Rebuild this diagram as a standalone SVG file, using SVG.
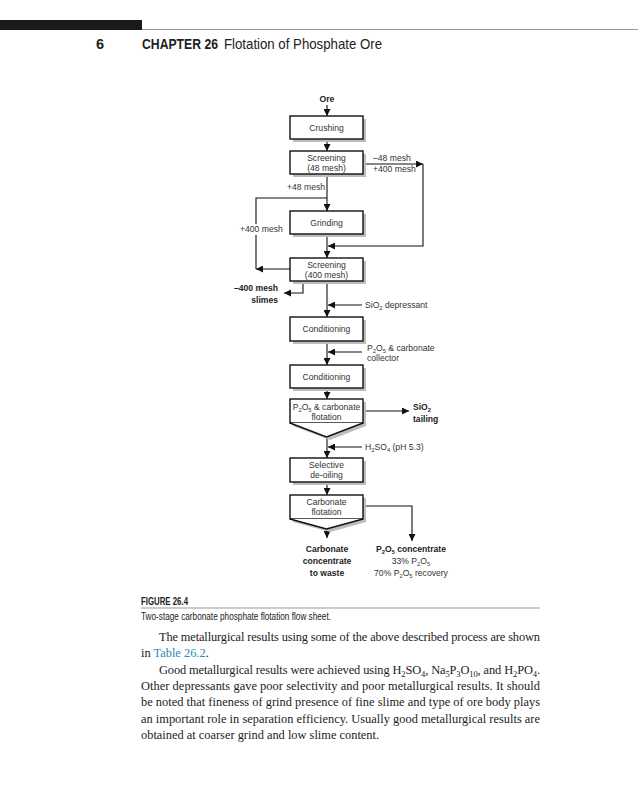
<svg xmlns="http://www.w3.org/2000/svg" width="638" height="787" viewBox="0 0 638 787">
<defs>
<marker id="ah" viewBox="0 0 10 10" refX="10" refY="5" markerWidth="7" markerHeight="7" markerUnits="userSpaceOnUse" orient="auto">
<path d="M0,0 L10,5 L0,10 z" fill="#111"/>
</marker>
</defs>
<style>
.bx{fill:#fff;stroke:#111;stroke-width:1.4}
.sh{fill:#bdbdbd;stroke:none}
.ln{fill:none;stroke:#111;stroke-width:1.1;marker-end:url(#ah)}
.pl{fill:none;stroke:#111;stroke-width:1.1}
.t{font-family:"Liberation Sans",Arial,sans-serif;font-size:8.6px;fill:#333}
.c{text-anchor:middle}
.e{text-anchor:end}
.b{font-weight:bold;fill:#222}
.s{font-size:5.8px}
.body{font-family:"Liberation Serif","Times New Roman",serif;font-size:12.4px;fill:#222}
.hd{font-family:"Liberation Sans",Arial,sans-serif;fill:#222}
</style>
<rect width="638" height="787" fill="#fff"/>

<!-- header -->
<rect x="0" y="20" width="142" height="10" fill="#1a1a1a"/>
<line x1="142" y1="29.5" x2="638" y2="29.5" stroke="#999" stroke-width="1"/>
<text class="hd" x="96" y="49" font-size="14.5" font-weight="bold">6</text>
<text class="hd" x="142" y="49" font-size="14.5" font-weight="bold" textLength="76" lengthAdjust="spacingAndGlyphs">CHAPTER 26</text>
<text class="hd" x="224" y="49" font-size="14.5" textLength="158" lengthAdjust="spacingAndGlyphs">Flotation of Phosphate Ore</text>

<!-- connectors -->
<g id="connectors">
<path class="ln" d="M327,105 V116"/>
<path class="ln" d="M327,139 V151"/>
<path class="ln" d="M327,174 V211"/>
<path class="ln" d="M363,164 H423"/>
<path class="ln" d="M423,164 V246 H328"/>
<path class="ln" d="M327,234 V258"/>
<path class="ln" d="M290,269 H256"/>
<path class="pl" d="M256,269 V198 H327"/>
<path class="ln" d="M303,281 V293 H284"/>
<path class="ln" d="M327,281 V317"/>
<path class="ln" d="M362,305 H328"/>
<path class="ln" d="M327,341 V365"/>
<path class="ln" d="M362,352 H328"/>
<path class="ln" d="M327,388 V399"/>
<path class="ln" d="M363,411 H409"/>
<path class="ln" d="M327,437 V458"/>
<path class="ln" d="M362,447 H328"/>
<path class="ln" d="M327,482 V495"/>
<path class="ln" d="M327,529 V538"/>
<path class="ln" d="M363,506 H412 V541"/>
</g>

<!-- nodes -->
<g id="ore"><text class="t c b" x="327" y="102">Ore</text></g>

<g id="crushing">
<rect class="sh" x="293" y="119" width="73" height="23"/>
<rect class="bx" x="290" y="116" width="73" height="23"/>
<text class="t c" x="326.5" y="131">Crushing</text>
</g>

<g id="screening48">
<rect class="sh" x="293" y="154" width="73" height="23"/>
<rect class="bx" x="290" y="151" width="73" height="23"/>
<text class="t c" x="326.5" y="161">Screening</text>
<text class="t c" x="326.5" y="171">(48 mesh)</text>
</g>

<g id="grinding">
<rect class="sh" x="293" y="214" width="73" height="23"/>
<rect class="bx" x="290" y="211" width="73" height="23"/>
<text class="t c" x="326.5" y="226">Grinding</text>
</g>

<g id="screening400">
<rect class="sh" x="293" y="261" width="73" height="23"/>
<rect class="bx" x="290" y="258" width="73" height="23"/>
<text class="t c" x="326.5" y="268">Screening</text>
<text class="t c" x="326.5" y="278">(400 mesh)</text>
</g>

<g id="conditioning1">
<rect class="sh" x="293" y="320" width="73" height="24"/>
<rect class="bx" x="290" y="317" width="73" height="24"/>
<text class="t c" x="326.5" y="332">Conditioning</text>
</g>

<g id="conditioning2">
<rect class="sh" x="293" y="368" width="73" height="23"/>
<rect class="bx" x="290" y="365" width="73" height="23"/>
<text class="t c" x="326.5" y="380">Conditioning</text>
</g>

<g id="flotation1">
<path class="sh" d="M293,402 H366 V426 L330,440 L293,426 Z"/>
<rect class="bx" x="290" y="399" width="73" height="24"/>
<path class="bx" d="M290,423 L326.5,437 L363,423"/>
<text class="t c" x="326.5" y="410">P<tspan class="s" dy="2">2</tspan><tspan dy="-2">O</tspan><tspan class="s" dy="2">5</tspan><tspan dy="-2"> &amp; carbonate</tspan></text>
<text class="t c" x="326.5" y="420">flotation</text>
</g>

<g id="deoiling">
<rect class="sh" x="293" y="461" width="73" height="24"/>
<rect class="bx" x="290" y="458" width="73" height="24"/>
<text class="t c" x="326.5" y="468">Selective</text>
<text class="t c" x="326.5" y="478">de-oiling</text>
</g>

<g id="flotation2">
<path class="sh" d="M293,498 H366 V522 L330,532 L293,522 Z"/>
<rect class="bx" x="290" y="495" width="73" height="24"/>
<path class="bx" d="M290,519 L326.5,529 L363,519"/>
<text class="t c" x="326.5" y="505">Carbonate</text>
<text class="t c" x="326.5" y="515">flotation</text>
</g>

<g id="labels">
<text class="t" x="373" y="161">–48 mesh</text>
<text class="t" x="373" y="172">+400 mesh</text>
<text class="t e" x="325" y="190">+48 mesh</text>
<rect x="239" y="224" width="46" height="11" fill="#fff"/>
<text class="t" x="240" y="232">+400 mesh</text>
<text class="t e b" x="278" y="291">–400 mesh</text>
<text class="t e b" x="278" y="303">slimes</text>
<text class="t" x="365" y="308">SiO<tspan class="s" dy="2">2</tspan><tspan dy="-2"> depressant</tspan></text>
<text class="t" x="367" y="351">P<tspan class="s" dy="2">2</tspan><tspan dy="-2">O</tspan><tspan class="s" dy="2">5</tspan><tspan dy="-2"> &amp; carbonate</tspan></text>
<text class="t" x="367" y="361">collector</text>
<text class="t b" x="413" y="410">SiO<tspan class="s" dy="2">2</tspan></text>
<text class="t b" x="413" y="422">tailing</text>
<text class="t" x="365" y="450">H<tspan class="s" dy="2">2</tspan><tspan dy="-2">SO</tspan><tspan class="s" dy="2">4</tspan><tspan dy="-2"> (pH 5.3)</tspan></text>
<text class="t c b" x="327" y="552">Carbonate</text>
<text class="t c b" x="327" y="564">concentrate</text>
<text class="t c b" x="327" y="576">to waste</text>
<text class="t c b" x="411" y="552">P<tspan class="s" dy="2">2</tspan><tspan dy="-2">O</tspan><tspan class="s" dy="2">5</tspan><tspan dy="-2"> concentrate</tspan></text>
<text class="t c" x="411" y="564">33% P<tspan class="s" dy="2">2</tspan><tspan dy="-2">O</tspan><tspan class="s" dy="2">5</tspan></text>
<text class="t c" x="411" y="576">70% P<tspan class="s" dy="2">2</tspan><tspan dy="-2">O</tspan><tspan class="s" dy="2">5</tspan><tspan dy="-2"> recovery</tspan></text>
</g>

<!-- caption -->
<text class="hd" x="141" y="605" font-size="11.5" font-weight="bold" textLength="47" lengthAdjust="spacingAndGlyphs">FIGURE 26.4</text>
<line x1="141" y1="608" x2="540" y2="608" stroke="#999" stroke-width="1"/>
<text class="hd" x="141" y="620" font-size="10.5" fill="#444" textLength="190" lengthAdjust="spacingAndGlyphs">Two-stage carbonate phosphate flotation flow sheet.</text>

<!-- body text -->
<text class="body" x="159" y="641" textLength="381" lengthAdjust="spacing">The metallurgical results using some of the above described process are shown</text>
<text class="body" x="141" y="657">in <tspan fill="#2a8ab8">Table 26.2</tspan>.</text>
<text class="body" x="159" y="674" textLength="381" lengthAdjust="spacing">Good metallurgical results were achieved using H<tspan font-size="8.5" dy="3">2</tspan><tspan dy="-3">SO</tspan><tspan font-size="8.5" dy="3">4</tspan><tspan dy="-3">, Na</tspan><tspan font-size="8.5" dy="3">5</tspan><tspan dy="-3">P</tspan><tspan font-size="8.5" dy="3">3</tspan><tspan dy="-3">O</tspan><tspan font-size="8.5" dy="3">10</tspan><tspan dy="-3">, and H</tspan><tspan font-size="8.5" dy="3">2</tspan><tspan dy="-3">PO</tspan><tspan font-size="8.5" dy="3">4</tspan><tspan dy="-3">.</tspan></text>
<text class="body" x="141" y="690" textLength="399" lengthAdjust="spacing">Other depressants gave poor selectivity and poor metallurgical results. It should</text>
<text class="body" x="141" y="706" textLength="399" lengthAdjust="spacing">be noted that fineness of grind presence of fine slime and type of ore body plays</text>
<text class="body" x="141" y="723" textLength="399" lengthAdjust="spacing">an important role in separation efficiency. Usually good metallurgical results are</text>
<text class="body" x="141" y="739">obtained at coarser grind and low slime content.</text>
</svg>
